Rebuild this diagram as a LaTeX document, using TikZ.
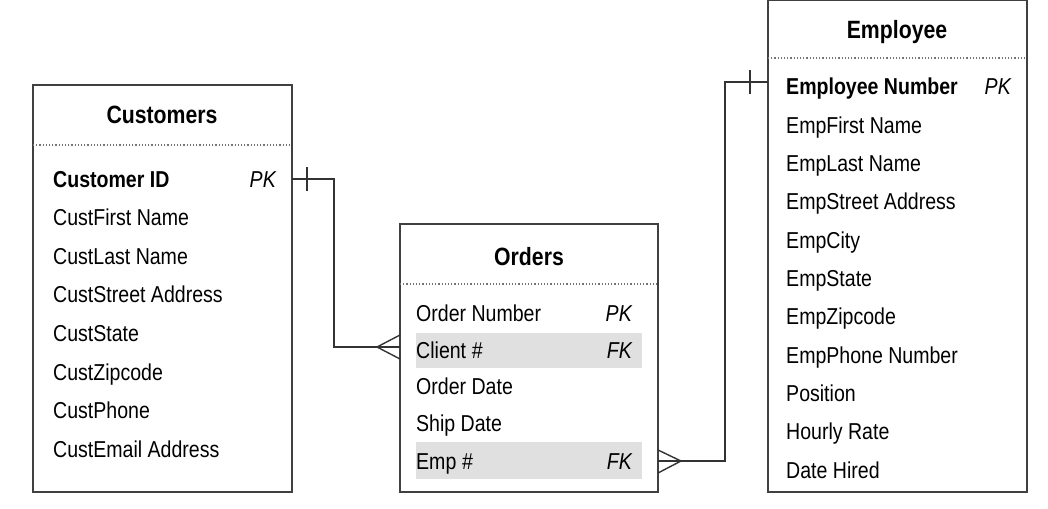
\documentclass[tikz,border=0pt]{standalone}
\usepackage{fontspec}
\setmainfont{Liberation Sans}[FakeStretch=0.85]
\begin{document}
\begin{tikzpicture}[x=1pt,y=-1pt,
  box/.style={draw=black!75,line width=1.4pt},
  sep/.style={draw=black!55,dotted,line width=1.2pt},
  ttl/.style={font=\fontsize{25}{28}\selectfont\bfseries,inner sep=0pt,anchor=base},
  fld/.style={font=\fontsize{23}{26}\selectfont,anchor=base west,inner sep=0pt},
  key/.style={font=\fontsize{23}{26}\selectfont\itshape,anchor=base east,inner sep=0pt},
  shade/.style={fill=black!12,draw=none},
  rel/.style={draw=black!80,line width=1.4pt}]
\useasboundingbox (0,0) rectangle (1048,508);
% Customers
\draw[box] (33,85) rectangle (292,492);
\node[ttl] (ct) at (162,124) {Customers};
\draw[sep] (33,145) -- (292,145);
\node[fld,font=\fontsize{23}{26}\selectfont\bfseries] (c1) at (53,187) {Customer ID};
\node[key] (c1k) at (276,187) {PK};
\foreach \t [count=\i] in {CustFirst Name,CustLast Name,CustStreet Address,CustState,CustZipcode,CustPhone,CustEmail Address}
  \node[fld] (c\i x) at (53,{187+\i*38.6}) {\t};
% Orders
\fill[shade] (416,333) rectangle (642,368);
\fill[shade] (416,442) rectangle (642,479);
\draw[box] (400,224) rectangle (658,492);
\node[ttl] (ot) at (529,265) {Orders};
\draw[sep] (400,284) -- (658,284);
\node[fld] (o1) at (416,321) {Order Number};
\node[key] (o1k) at (632,321) {PK};
\node[fld] (o2) at (416,358) {Client {\itshape\#}};
\node[key] (o2k) at (632,358) {FK};
\node[fld] (o3) at (416,394) {Order Date};
\node[fld] (o4) at (416,431) {Ship Date};
\node[fld] (o5) at (416,469) {Emp {\itshape\#}};
\node[key] (o5k) at (632,469) {FK};
% Employee
\draw[box] (768,0) rectangle (1027,492);
\node[ttl] (et) at (897,39) {Employee};
\draw[sep] (768,58) -- (1027,58);
\node[fld,font=\fontsize{23}{26}\selectfont\bfseries] (e1) at (786,95) {Employee Number};
\node[key] (e1k) at (1011,95) {PK};
\foreach \t [count=\i] in {EmpFirst Name,EmpLast Name,EmpStreet Address,EmpCity,EmpState,EmpZipcode,EmpPhone Number,Position,Hourly Rate,Date Hired}
  \node[fld] (e\i x) at (786,{95+\i*38.3}) {\t};
% anchors
\coordinate (cA) at (292,179);
\coordinate (oA) at (400,347);
\coordinate (oB) at (658,461);
\coordinate (eA) at (768,82);
% relation Customers-Orders
\draw[rel] (cA) -- (334,179) -- (334,347) -- (oA);
\draw[rel] (307,167) -- (307,191);
\draw[rel] (oA) ++(0,-12) -- (377,347) -- ++(23,12);
% relation Orders-Employee
\draw[rel] (oB) -- (725,461) -- (725,82) -- (eA);
\draw[rel] (750,70) -- (750,94);
\draw[rel] (oB) ++(0,-11) -- (681,461) -- ++(-23,12);
\end{tikzpicture}
\end{document}
